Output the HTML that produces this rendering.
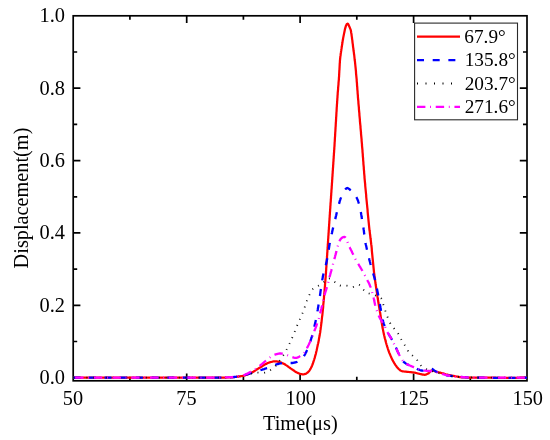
<!DOCTYPE html>
<html lang="en"><head><meta charset="utf-8"><title>Displacement vs Time</title>
<style>html,body{margin:0;padding:0;background:#fff}body{width:550px;height:440px;overflow:hidden}svg{display:block}text{font-family:"Liberation Serif","Times New Roman",serif;font-size:20px;fill:#000}</style>
</head><body>
<svg width="550" height="440" viewBox="0 0 550 440">
<rect width="550" height="440" fill="#fff"/>
<g stroke="#000" stroke-width="1.7" fill="none">
<rect x="73.2" y="15.8" width="453.8" height="365.0"/>
<path d="M129.9 380.8 v-4.0 M129.9 15.8 v4.0 M186.7 380.8 v-7.2 M186.7 15.8 v7.2 M243.4 380.8 v-4.0 M243.4 15.8 v4.0 M300.1 380.8 v-7.2 M300.1 15.8 v7.2 M356.8 380.8 v-4.0 M356.8 15.8 v4.0 M413.6 380.8 v-7.2 M413.6 15.8 v7.2 M470.3 380.8 v-4.0 M470.3 15.8 v4.0 M73.2 377.7 h7.2 M527.0 377.7 h-7.2 M73.2 341.5 h4.0 M527.0 341.5 h-4.0 M73.2 305.3 h7.2 M527.0 305.3 h-7.2 M73.2 269.1 h4.0 M527.0 269.1 h-4.0 M73.2 232.9 h7.2 M527.0 232.9 h-7.2 M73.2 196.8 h4.0 M527.0 196.8 h-4.0 M73.2 160.6 h7.2 M527.0 160.6 h-7.2 M73.2 124.4 h4.0 M527.0 124.4 h-4.0 M73.2 88.2 h7.2 M527.0 88.2 h-7.2 M73.2 52.0 h4.0 M527.0 52.0 h-4.0"/>
</g>
<g fill="none" stroke-linejoin="round">
<path d="M73.2 377.7 L74.2 377.7 L75.2 377.7 L76.2 377.7 L77.2 377.7 L78.2 377.7 L79.2 377.7 L80.2 377.7 L81.2 377.7 L82.2 377.7 L83.2 377.7 L84.2 377.7 L85.2 377.7 L86.2 377.7 L87.2 377.7 L88.2 377.7 L89.2 377.7 L90.2 377.7 L91.2 377.7 L92.2 377.7 L93.2 377.7 L94.2 377.7 L95.2 377.7 L96.2 377.7 L97.2 377.7 L98.2 377.7 L99.2 377.7 L100.2 377.7 L101.2 377.7 L102.2 377.7 L103.2 377.7 L104.2 377.7 L105.2 377.7 L106.2 377.7 L107.2 377.7 L108.2 377.7 L109.2 377.7 L110.2 377.7 L111.2 377.7 L112.2 377.7 L113.2 377.7 L114.2 377.7 L115.2 377.7 L116.2 377.7 L117.2 377.7 L118.2 377.7 L119.2 377.7 L120.2 377.7 L121.2 377.7 L122.2 377.7 L123.2 377.7 L124.2 377.7 L125.2 377.7 L126.2 377.7 L127.2 377.7 L128.2 377.7 L129.2 377.7 L130.2 377.7 L131.2 377.7 L132.2 377.7 L133.2 377.7 L134.2 377.7 L135.2 377.7 L136.2 377.7 L137.2 377.7 L138.2 377.7 L139.2 377.7 L140.2 377.7 L141.2 377.7 L142.2 377.7 L143.2 377.7 L144.2 377.7 L145.2 377.7 L146.2 377.7 L147.2 377.7 L148.2 377.7 L149.2 377.7 L150.2 377.7 L151.2 377.7 L152.2 377.7 L153.2 377.7 L154.2 377.7 L155.2 377.7 L156.2 377.7 L157.2 377.7 L158.2 377.7 L159.2 377.7 L160.2 377.7 L161.2 377.7 L162.2 377.7 L163.2 377.7 L164.2 377.7 L165.2 377.7 L166.2 377.7 L167.2 377.7 L168.2 377.7 L169.2 377.7 L170.2 377.7 L171.2 377.7 L172.2 377.7 L173.2 377.7 L174.2 377.7 L175.2 377.7 L176.2 377.7 L177.2 377.7 L178.2 377.7 L179.2 377.7 L180.2 377.7 L181.2 377.7 L182.2 377.7 L183.2 377.7 L184.2 377.7 L185.2 377.7 L186.2 377.7 L187.2 377.7 L188.2 377.7 L189.2 377.7 L190.2 377.7 L191.2 377.7 L192.2 377.7 L193.2 377.7 L194.2 377.7 L195.2 377.7 L196.2 377.7 L197.2 377.7 L198.2 377.7 L199.2 377.7 L200.2 377.7 L201.2 377.7 L202.2 377.7 L203.2 377.7 L204.2 377.7 L205.2 377.7 L206.2 377.7 L207.2 377.7 L208.2 377.7 L209.2 377.7 L210.2 377.7 L211.2 377.7 L212.2 377.7 L213.2 377.6 L214.2 377.6 L215.2 377.6 L216.2 377.6 L217.2 377.6 L218.2 377.6 L219.2 377.6 L220.2 377.6 L221.2 377.6 L222.2 377.6 L223.2 377.6 L224.2 377.5 L225.2 377.5 L226.2 377.5 L227.2 377.5 L228.2 377.4 L229.2 377.4 L230.2 377.4 L231.2 377.4 L232.2 377.3 L233.2 377.2 L234.2 377.1 L235.2 377.0 L236.2 376.9 L237.2 376.7 L238.2 376.6 L239.2 376.4 L240.2 376.3 L241.1 376.1 L242.1 376.0 L243.1 375.8 L244.1 375.6 L245.0 375.3 L246.0 375.0 L246.9 374.6 L247.9 374.3 L248.8 373.9 L249.7 373.5 L250.6 373.1 L251.5 372.7 L252.4 372.2 L253.3 371.7 L254.1 371.2 L255.0 370.7 L255.8 370.1 L256.7 369.6 L257.5 369.0 L258.4 368.5 L259.2 368.0 L260.1 367.5 L260.9 366.9 L261.8 366.4 L262.7 365.9 L263.5 365.4 L264.4 364.8 L265.2 364.3 L266.1 363.9 L267.0 363.4 L267.9 363.0 L268.9 362.7 L269.8 362.3 L270.8 362.0 L271.8 361.8 L272.8 361.5 L273.7 361.4 L274.7 361.3 L275.7 361.3 L276.7 361.4 L277.7 361.6 L278.7 361.8 L279.6 362.1 L280.6 362.4 L281.6 362.8 L282.5 363.2 L283.4 363.6 L284.3 364.0 L285.1 364.5 L286.0 365.1 L286.8 365.6 L287.6 366.2 L288.4 366.8 L289.2 367.4 L290.1 368.0 L290.9 368.6 L291.7 369.1 L292.6 369.7 L293.4 370.3 L294.2 370.8 L295.0 371.4 L295.9 371.9 L296.8 372.4 L297.6 372.9 L298.6 373.3 L299.5 373.7 L300.5 374.0 L301.5 374.2 L302.5 374.4 L303.4 374.4 L304.4 374.2 L305.4 373.9 L306.4 373.4 L307.2 372.8 L308.0 372.3 L308.6 371.6 L309.2 370.9 L309.8 370.0 L310.3 369.2 L310.8 368.3 L311.3 367.3 L311.8 366.4 L312.2 365.4 L312.5 364.5 L312.9 363.5 L313.2 362.6 L313.5 361.7 L313.8 360.7 L314.1 359.8 L314.4 358.8 L314.7 357.9 L315.0 356.9 L315.2 355.9 L315.5 354.9 L315.8 354.0 L316.0 353.0 L316.2 352.0 L316.5 351.0 L316.7 350.1 L316.9 349.1 L317.1 348.1 L317.3 347.1 L317.5 346.2 L317.7 345.2 L317.9 344.2 L318.2 343.2 L318.4 342.2 L318.6 341.3 L318.8 340.3 L318.9 339.3 L319.1 338.3 L319.3 337.3 L319.5 336.3 L319.7 335.3 L319.8 334.4 L320.0 333.4 L320.2 332.4 L320.3 331.4 L320.4 330.4 L320.6 329.4 L320.7 328.4 L320.8 327.4 L321.0 326.4 L321.1 325.5 L321.2 324.5 L321.3 323.5 L321.5 322.5 L321.6 321.5 L321.7 320.5 L321.8 319.5 L321.9 318.5 L322.0 317.5 L322.1 316.5 L322.3 315.5 L322.4 314.5 L322.5 313.5 L322.6 312.5 L322.7 311.5 L322.8 310.5 L322.9 309.5 L323.0 308.6 L323.1 307.6 L323.2 306.6 L323.2 305.6 L323.3 304.6 L323.4 303.6 L323.5 302.6 L323.6 301.6 L323.7 300.6 L323.8 299.6 L323.9 298.6 L324.0 297.6 L324.0 296.6 L324.1 295.6 L324.2 294.6 L324.3 293.6 L324.4 292.6 L324.5 291.6 L324.6 290.6 L324.6 289.6 L324.7 288.6 L324.8 287.6 L324.9 286.6 L325.0 285.6 L325.0 284.6 L325.1 283.6 L325.2 282.6 L325.3 281.7 L325.4 280.7 L325.4 279.7 L325.5 278.7 L325.6 277.7 L325.7 276.7 L325.7 275.7 L325.8 274.7 L325.9 273.7 L326.0 272.7 L326.0 271.7 L326.1 270.7 L326.2 269.7 L326.2 268.7 L326.3 267.7 L326.4 266.7 L326.4 265.7 L326.5 264.7 L326.6 263.7 L326.6 262.7 L326.7 261.7 L326.8 260.7 L326.8 259.7 L326.9 258.7 L327.0 257.7 L327.0 256.7 L327.1 255.7 L327.2 254.7 L327.2 253.7 L327.3 252.7 L327.4 251.7 L327.4 250.7 L327.5 249.7 L327.6 248.7 L327.6 247.7 L327.7 246.7 L327.8 245.7 L327.8 244.7 L327.9 243.7 L328.0 242.7 L328.0 241.7 L328.1 240.7 L328.1 239.7 L328.2 238.8 L328.3 237.8 L328.3 236.8 L328.4 235.8 L328.5 234.8 L328.5 233.8 L328.6 232.8 L328.7 231.8 L328.7 230.8 L328.8 229.8 L328.9 228.8 L328.9 227.8 L329.0 226.8 L329.1 225.8 L329.1 224.8 L329.2 223.8 L329.3 222.8 L329.3 221.8 L329.4 220.8 L329.5 219.8 L329.5 218.8 L329.6 217.8 L329.7 216.8 L329.7 215.8 L329.8 214.8 L329.9 213.8 L329.9 212.8 L330.0 211.8 L330.1 210.8 L330.1 209.8 L330.2 208.8 L330.3 207.8 L330.3 206.8 L330.4 205.8 L330.5 204.8 L330.5 203.8 L330.6 202.8 L330.7 201.8 L330.8 200.8 L330.8 199.8 L330.9 198.8 L331.0 197.8 L331.0 196.8 L331.1 195.8 L331.2 194.9 L331.2 193.9 L331.3 192.9 L331.4 191.9 L331.4 190.9 L331.5 189.9 L331.6 188.9 L331.7 187.9 L331.7 186.9 L331.8 185.9 L331.9 184.9 L331.9 183.9 L332.0 182.9 L332.1 181.9 L332.1 180.9 L332.2 179.9 L332.3 178.9 L332.3 177.9 L332.4 176.9 L332.5 175.9 L332.5 174.9 L332.6 173.9 L332.7 172.9 L332.7 171.9 L332.8 170.9 L332.9 169.9 L332.9 168.9 L333.0 167.9 L333.1 166.9 L333.1 165.9 L333.2 164.9 L333.3 163.9 L333.3 162.9 L333.4 161.9 L333.5 160.9 L333.5 159.9 L333.6 158.9 L333.7 157.9 L333.7 156.9 L333.8 155.9 L333.9 154.9 L333.9 153.9 L334.0 152.9 L334.1 151.9 L334.1 151.0 L334.2 150.0 L334.3 149.0 L334.3 148.0 L334.4 147.0 L334.5 146.0 L334.5 145.0 L334.6 144.0 L334.6 143.0 L334.7 142.0 L334.8 141.0 L334.8 140.0 L334.9 139.0 L334.9 138.0 L335.0 137.0 L335.1 136.0 L335.1 135.0 L335.2 134.0 L335.2 133.0 L335.3 132.0 L335.4 131.0 L335.4 130.0 L335.5 129.0 L335.5 128.0 L335.6 127.0 L335.7 126.0 L335.7 125.0 L335.8 124.0 L335.8 123.0 L335.9 122.0 L336.0 121.0 L336.0 120.0 L336.1 119.0 L336.1 118.0 L336.2 117.0 L336.3 116.0 L336.3 115.0 L336.4 114.0 L336.4 113.0 L336.5 112.0 L336.6 111.0 L336.6 110.0 L336.7 109.0 L336.7 108.0 L336.8 107.0 L336.9 106.0 L336.9 105.0 L337.0 104.0 L337.1 103.0 L337.1 102.0 L337.2 101.0 L337.3 100.0 L337.3 99.0 L337.4 98.1 L337.5 97.1 L337.5 96.1 L337.6 95.1 L337.7 94.1 L337.7 93.1 L337.8 92.1 L337.9 91.1 L338.0 90.1 L338.1 89.1 L338.1 88.1 L338.2 87.1 L338.3 86.1 L338.4 85.1 L338.5 84.1 L338.5 83.1 L338.6 82.1 L338.7 81.1 L338.8 80.1 L338.9 79.1 L338.9 78.1 L339.0 77.1 L339.1 76.1 L339.1 75.1 L339.2 74.1 L339.2 73.1 L339.3 72.1 L339.3 71.1 L339.4 70.1 L339.5 69.1 L339.5 68.1 L339.6 67.1 L339.6 66.1 L339.7 65.1 L339.7 64.1 L339.8 63.1 L339.9 62.1 L339.9 61.1 L340.0 60.1 L340.1 59.2 L340.2 58.2 L340.3 57.2 L340.4 56.2 L340.6 55.2 L340.7 54.2 L340.8 53.2 L341.0 52.2 L341.1 51.2 L341.3 50.2 L341.4 49.2 L341.6 48.2 L341.7 47.3 L341.9 46.3 L342.0 45.3 L342.2 44.3 L342.3 43.3 L342.5 42.3 L342.6 41.3 L342.8 40.3 L343.0 39.3 L343.1 38.4 L343.3 37.4 L343.5 36.4 L343.7 35.4 L343.9 34.4 L344.1 33.4 L344.3 32.5 L344.5 31.5 L344.7 30.5 L344.9 29.5 L345.1 28.6 L345.4 27.6 L345.7 26.6 L346.0 25.7 L346.5 24.6 L347.2 23.8 L347.8 23.7 L348.4 24.5 L348.9 25.6 L349.3 26.5 L349.7 27.4 L350.1 28.4 L350.5 29.3 L350.8 30.3 L351.0 31.2 L351.1 32.2 L351.3 33.2 L351.5 34.2 L351.6 35.1 L351.7 36.1 L351.9 37.1 L352.0 38.1 L352.1 39.1 L352.3 40.1 L352.4 41.1 L352.5 42.1 L352.6 43.1 L352.8 44.1 L352.9 45.1 L353.0 46.1 L353.1 47.1 L353.3 48.1 L353.4 49.1 L353.5 50.1 L353.6 51.1 L353.8 52.0 L353.9 53.0 L354.0 54.0 L354.2 55.0 L354.3 56.0 L354.4 57.0 L354.5 58.0 L354.6 59.0 L354.7 60.0 L354.9 61.0 L355.0 62.0 L355.1 63.0 L355.2 64.0 L355.3 65.0 L355.4 66.0 L355.5 66.9 L355.6 67.9 L355.7 68.9 L355.8 69.9 L355.9 70.9 L356.0 71.9 L356.0 72.9 L356.1 73.9 L356.2 74.9 L356.3 75.9 L356.4 76.9 L356.5 77.9 L356.6 78.9 L356.7 79.9 L356.7 80.9 L356.8 81.9 L356.9 82.9 L357.0 83.9 L357.0 84.9 L357.1 85.9 L357.2 86.9 L357.3 87.9 L357.3 88.9 L357.4 89.9 L357.5 90.9 L357.6 91.9 L357.6 92.9 L357.7 93.9 L357.8 94.9 L357.9 95.9 L357.9 96.8 L358.0 97.8 L358.1 98.8 L358.2 99.8 L358.3 100.8 L358.4 101.8 L358.4 102.8 L358.5 103.8 L358.6 104.8 L358.7 105.8 L358.8 106.8 L358.9 107.8 L358.9 108.8 L359.0 109.8 L359.1 110.8 L359.2 111.8 L359.3 112.8 L359.4 113.8 L359.4 114.8 L359.5 115.8 L359.6 116.8 L359.7 117.8 L359.8 118.8 L359.9 119.8 L359.9 120.8 L360.0 121.8 L360.1 122.8 L360.2 123.8 L360.3 124.8 L360.4 125.7 L360.5 126.7 L360.5 127.7 L360.6 128.7 L360.7 129.7 L360.8 130.7 L360.9 131.7 L361.0 132.7 L361.0 133.7 L361.1 134.7 L361.2 135.7 L361.3 136.7 L361.4 137.7 L361.5 138.7 L361.6 139.7 L361.6 140.7 L361.7 141.7 L361.8 142.7 L361.9 143.7 L362.0 144.7 L362.0 145.7 L362.1 146.7 L362.2 147.7 L362.3 148.7 L362.4 149.7 L362.5 150.7 L362.5 151.7 L362.6 152.7 L362.7 153.7 L362.8 154.6 L362.8 155.6 L362.9 156.6 L363.0 157.6 L363.1 158.6 L363.1 159.6 L363.2 160.6 L363.3 161.6 L363.4 162.6 L363.4 163.6 L363.5 164.6 L363.6 165.6 L363.7 166.6 L363.8 167.6 L363.8 168.6 L363.9 169.6 L364.0 170.6 L364.1 171.6 L364.1 172.6 L364.2 173.6 L364.3 174.6 L364.4 175.6 L364.5 176.6 L364.5 177.6 L364.6 178.6 L364.7 179.6 L364.8 180.6 L364.9 181.6 L365.0 182.6 L365.1 183.6 L365.2 184.6 L365.2 185.5 L365.3 186.5 L365.4 187.5 L365.5 188.5 L365.6 189.5 L365.7 190.5 L365.8 191.5 L365.9 192.5 L366.0 193.5 L366.1 194.5 L366.2 195.5 L366.2 196.5 L366.3 197.5 L366.4 198.5 L366.5 199.5 L366.6 200.5 L366.7 201.5 L366.8 202.5 L366.9 203.5 L367.0 204.5 L367.1 205.5 L367.2 206.5 L367.3 207.5 L367.4 208.4 L367.5 209.4 L367.6 210.4 L367.6 211.4 L367.7 212.4 L367.8 213.4 L367.9 214.4 L368.0 215.4 L368.1 216.4 L368.2 217.4 L368.3 218.4 L368.4 219.4 L368.5 220.4 L368.6 221.4 L368.7 222.4 L368.8 223.4 L368.9 224.4 L369.0 225.4 L369.1 226.4 L369.2 227.4 L369.3 228.4 L369.4 229.3 L369.5 230.3 L369.7 231.3 L369.8 232.3 L369.9 233.3 L370.0 234.3 L370.2 235.3 L370.3 236.3 L370.4 237.3 L370.5 238.3 L370.7 239.3 L370.8 240.3 L370.9 241.3 L371.0 242.2 L371.1 243.2 L371.2 244.2 L371.4 245.2 L371.5 246.2 L371.6 247.2 L371.7 248.2 L371.8 249.2 L371.8 250.2 L371.9 251.2 L372.0 252.2 L372.1 253.2 L372.2 254.2 L372.3 255.2 L372.4 256.2 L372.5 257.2 L372.6 258.2 L372.7 259.2 L372.8 260.2 L372.9 261.2 L373.0 262.2 L373.1 263.2 L373.2 264.1 L373.3 265.1 L373.4 266.1 L373.5 267.1 L373.6 268.1 L373.7 269.1 L373.8 270.1 L373.9 271.1 L374.0 272.1 L374.1 273.1 L374.3 274.1 L374.4 275.1 L374.5 276.1 L374.6 277.1 L374.8 278.1 L374.9 279.0 L375.0 280.0 L375.2 281.0 L375.3 282.0 L375.4 283.0 L375.6 284.0 L375.7 285.0 L375.9 286.0 L376.0 287.0 L376.2 288.0 L376.3 288.9 L376.5 289.9 L376.6 290.9 L376.8 291.9 L376.9 292.9 L377.1 293.9 L377.2 294.9 L377.4 295.9 L377.5 296.9 L377.7 297.8 L377.8 298.8 L378.0 299.8 L378.1 300.8 L378.3 301.8 L378.4 302.8 L378.6 303.8 L378.8 304.8 L378.9 305.7 L379.1 306.7 L379.3 307.7 L379.4 308.7 L379.6 309.7 L379.8 310.7 L379.9 311.7 L380.1 312.6 L380.3 313.6 L380.4 314.6 L380.6 315.6 L380.7 316.6 L380.9 317.6 L381.1 318.6 L381.2 319.6 L381.4 320.6 L381.5 321.5 L381.7 322.5 L381.9 323.5 L382.0 324.5 L382.2 325.5 L382.4 326.5 L382.5 327.5 L382.7 328.4 L382.9 329.4 L383.1 330.4 L383.3 331.4 L383.5 332.4 L383.7 333.3 L383.9 334.3 L384.1 335.3 L384.4 336.3 L384.6 337.2 L384.8 338.2 L385.1 339.2 L385.4 340.1 L385.6 341.1 L385.9 342.1 L386.1 343.0 L386.4 344.0 L386.7 345.0 L387.0 345.9 L387.3 346.9 L387.6 347.8 L387.9 348.8 L388.2 349.7 L388.5 350.7 L388.9 351.6 L389.2 352.6 L389.6 353.5 L390.0 354.4 L390.4 355.4 L390.8 356.3 L391.2 357.2 L391.6 358.1 L392.0 359.0 L392.4 359.9 L392.9 360.8 L393.4 361.7 L393.9 362.5 L394.4 363.4 L395.0 364.2 L395.5 365.1 L396.1 365.9 L396.7 366.7 L397.3 367.4 L398.0 368.2 L398.7 369.0 L399.5 369.7 L400.3 370.4 L401.1 370.8 L402.0 371.1 L402.9 371.3 L403.9 371.5 L405.0 371.6 L406.0 371.7 L407.0 371.8 L408.0 371.9 L409.0 372.0 L410.0 372.1 L411.0 372.2 L412.0 372.3 L413.0 372.4 L414.0 372.5 L414.9 372.7 L415.9 373.0 L416.9 373.2 L417.8 373.5 L418.8 373.7 L419.8 374.0 L420.8 374.2 L421.8 374.4 L422.8 374.6 L423.7 374.7 L424.7 374.8 L425.7 374.7 L426.6 374.3 L427.6 373.8 L428.5 373.4 L429.2 372.7 L429.9 371.8 L430.6 370.9 L431.3 370.5 L432.2 370.5 L433.2 370.7 L434.2 371.0 L435.2 371.3 L436.2 371.6 L437.2 371.8 L438.1 372.1 L439.1 372.4 L440.1 372.6 L441.0 372.9 L442.0 373.2 L442.9 373.4 L443.9 373.7 L444.9 374.0 L445.8 374.3 L446.8 374.5 L447.8 374.7 L448.7 375.0 L449.7 375.2 L450.7 375.4 L451.7 375.6 L452.7 375.8 L453.7 375.9 L454.6 376.1 L455.6 376.3 L456.6 376.5 L457.6 376.7 L458.6 376.9 L459.6 377.1 L460.6 377.2 L461.5 377.3 L462.5 377.3 L463.5 377.4 L464.5 377.4 L465.5 377.4 L466.5 377.5 L467.5 377.5 L468.5 377.5 L469.5 377.6 L470.5 377.6 L471.5 377.6 L472.5 377.6 L473.5 377.6 L474.5 377.7 L475.5 377.7 L476.5 377.7 L477.5 377.7 L478.5 377.7 L479.5 377.7 L480.5 377.7 L481.5 377.7 L482.5 377.7 L483.5 377.7 L484.5 377.7 L485.5 377.7 L486.5 377.7 L487.5 377.7 L488.5 377.7 L489.5 377.7 L490.5 377.7 L491.5 377.7 L492.5 377.7 L493.5 377.7 L494.5 377.7 L495.5 377.7 L496.5 377.8 L497.5 377.8 L498.5 377.8 L499.5 377.8 L500.5 377.8 L501.5 377.8 L502.5 377.8 L503.5 377.8 L504.5 377.8 L505.5 377.8 L506.5 377.8 L507.5 377.8 L508.5 377.8 L509.5 377.8 L510.5 377.8 L511.5 377.8 L512.5 377.8 L513.5 377.8 L514.5 377.8 L515.5 377.8 L516.5 377.8 L517.5 377.8 L518.5 377.8 L519.5 377.7 L520.5 377.7 L521.5 377.7 L522.5 377.7 L523.5 377.7 L524.5 377.7 L525.5 377.7 L526.5 377.7 L527.0 377.7" stroke="#ff0000" stroke-width="2.25"/>
<path d="M73.2 377.7 L74.2 377.7 L75.2 377.7 L76.2 377.7 L77.2 377.7 L78.2 377.7 L79.2 377.7 L80.2 377.7 L81.2 377.7 L82.2 377.7 L83.2 377.7 L84.2 377.7 L85.2 377.7 L86.2 377.7 L87.2 377.7 L88.2 377.7 L89.2 377.7 L90.2 377.7 L91.2 377.7 L92.2 377.7 L93.2 377.7 L94.2 377.7 L95.2 377.7 L96.2 377.7 L97.2 377.7 L98.2 377.7 L99.2 377.7 L100.2 377.7 L101.2 377.7 L102.2 377.7 L103.2 377.7 L104.2 377.7 L105.2 377.7 L106.2 377.7 L107.2 377.7 L108.2 377.7 L109.2 377.7 L110.2 377.7 L111.2 377.7 L112.2 377.7 L113.2 377.7 L114.2 377.7 L115.2 377.7 L116.2 377.7 L117.2 377.7 L118.2 377.7 L119.2 377.7 L120.2 377.7 L121.2 377.7 L122.2 377.7 L123.2 377.7 L124.2 377.7 L125.2 377.7 L126.2 377.7 L127.2 377.7 L128.2 377.7 L129.2 377.7 L130.2 377.7 L131.2 377.7 L132.2 377.7 L133.2 377.7 L134.2 377.7 L135.2 377.7 L136.2 377.7 L137.2 377.7 L138.2 377.7 L139.2 377.7 L140.2 377.7 L141.2 377.7 L142.2 377.7 L143.2 377.7 L144.2 377.7 L145.2 377.7 L146.2 377.7 L147.2 377.7 L148.2 377.7 L149.2 377.7 L150.2 377.7 L151.2 377.7 L152.2 377.7 L153.2 377.7 L154.2 377.7 L155.2 377.7 L156.2 377.7 L157.2 377.7 L158.2 377.7 L159.2 377.7 L160.2 377.7 L161.2 377.7 L162.2 377.7 L163.2 377.7 L164.2 377.7 L165.2 377.7 L166.2 377.7 L167.2 377.7 L168.2 377.7 L169.2 377.7 L170.2 377.7 L171.2 377.7 L172.2 377.7 L173.2 377.7 L174.2 377.7 L175.2 377.7 L176.2 377.7 L177.2 377.7 L178.2 377.7 L179.2 377.7 L180.2 377.7 L181.2 377.7 L182.2 377.7 L183.2 377.7 L184.2 377.7 L185.2 377.7 L186.2 377.7 L187.2 377.7 L188.2 377.7 L189.2 377.7 L190.2 377.7 L191.2 377.7 L192.2 377.7 L193.2 377.7 L194.2 377.7 L195.2 377.7 L196.2 377.7 L197.2 377.7 L198.2 377.7 L199.2 377.7 L200.2 377.7 L201.2 377.7 L202.2 377.7 L203.2 377.7 L204.2 377.7 L205.2 377.7 L206.2 377.7 L207.2 377.7 L208.2 377.7 L209.2 377.7 L210.2 377.7 L211.2 377.7 L212.2 377.7 L213.2 377.6 L214.2 377.6 L215.2 377.6 L216.2 377.6 L217.2 377.6 L218.2 377.6 L219.2 377.6 L220.2 377.6 L221.2 377.6 L222.2 377.6 L223.2 377.5 L224.2 377.5 L225.2 377.5 L226.2 377.5 L227.2 377.4 L228.2 377.4 L229.2 377.3 L230.2 377.3 L231.2 377.2 L232.2 377.2 L233.2 377.1 L234.2 377.0 L235.2 376.9 L236.2 376.8 L237.2 376.7 L238.2 376.5 L239.2 376.3 L240.1 376.2 L241.1 376.0 L242.1 375.8 L243.1 375.6 L244.0 375.3 L245.0 375.0 L245.9 374.7 L246.9 374.4 L247.8 374.1 L248.8 373.8 L249.8 373.5 L250.7 373.2 L251.7 372.9 L252.6 372.6 L253.6 372.3 L254.5 372.1 L255.5 371.8 L256.5 371.5 L257.4 371.2 L258.4 370.9 L259.3 370.6 L260.3 370.3 L261.2 370.0 L262.2 369.7 L263.1 369.4 L264.1 369.1 L265.0 368.7 L266.0 368.4 L266.9 368.1 L267.9 367.8 L268.8 367.4 L269.8 367.1 L270.7 366.7 L271.6 366.4 L272.6 366.0 L273.5 365.6 L274.4 365.2 L275.3 364.9 L276.3 364.5 L277.2 364.2 L278.2 364.0 L279.2 363.7 L280.1 363.5 L281.1 363.3 L282.1 363.2 L283.1 363.1 L284.1 363.0 L285.1 362.9 L286.1 362.9 L287.1 363.0 L288.1 363.0 L289.1 363.0 L290.1 363.0 L291.1 363.0 L292.1 363.0 L293.1 362.9 L294.1 362.7 L295.1 362.5 L296.1 362.2 L297.1 361.9 L298.0 361.5 L298.8 361.1 L299.6 360.6 L300.4 360.1 L301.2 359.4 L301.9 358.6 L302.6 357.8 L303.3 357.0 L303.9 356.1 L304.4 355.3 L304.9 354.5 L305.4 353.6 L305.8 352.8 L306.3 351.9 L306.7 350.9 L307.1 350.0 L307.5 349.1 L307.9 348.1 L308.3 347.2 L308.6 346.2 L309.0 345.3 L309.3 344.4 L309.6 343.4 L310.0 342.5 L310.3 341.5 L310.6 340.6 L310.9 339.6 L311.2 338.7 L311.5 337.7 L311.8 336.8 L312.1 335.8 L312.4 334.8 L312.6 333.9 L312.9 332.9 L313.1 332.0 L313.4 331.0 L313.6 330.0 L313.8 329.0 L314.1 328.1 L314.3 327.1 L314.5 326.1 L314.7 325.1 L314.9 324.2 L315.2 323.2 L315.4 322.2 L315.6 321.2 L315.8 320.2 L316.0 319.3 L316.1 318.3 L316.3 317.3 L316.5 316.3 L316.7 315.3 L316.9 314.3 L317.1 313.4 L317.2 312.4 L317.4 311.4 L317.6 310.4 L317.8 309.4 L317.9 308.4 L318.1 307.5 L318.3 306.5 L318.4 305.5 L318.6 304.5 L318.8 303.5 L318.9 302.5 L319.1 301.5 L319.2 300.5 L319.4 299.6 L319.5 298.6 L319.7 297.6 L319.8 296.6 L320.0 295.6 L320.1 294.6 L320.3 293.6 L320.4 292.6 L320.5 291.6 L320.7 290.6 L320.8 289.6 L321.0 288.7 L321.1 287.7 L321.2 286.7 L321.4 285.7 L321.5 284.7 L321.7 283.7 L321.8 282.7 L322.0 281.7 L322.2 280.7 L322.3 279.8 L322.5 278.8 L322.7 277.8 L322.8 276.8 L323.0 275.8 L323.2 274.9 L323.4 273.9 L323.7 272.9 L323.9 271.9 L324.2 271.0 L324.4 270.0 L324.7 269.0 L325.0 268.1 L325.2 267.1 L325.5 266.1 L325.8 265.2 L326.0 264.2 L326.3 263.2 L326.5 262.3 L326.7 261.3 L326.9 260.3 L327.1 259.3 L327.3 258.4 L327.5 257.4 L327.7 256.4 L327.8 255.4 L328.0 254.4 L328.2 253.4 L328.3 252.4 L328.5 251.5 L328.6 250.5 L328.8 249.5 L328.9 248.5 L329.1 247.5 L329.2 246.5 L329.4 245.5 L329.5 244.5 L329.7 243.5 L329.9 242.6 L330.1 241.6 L330.3 240.6 L330.5 239.6 L330.7 238.6 L330.9 237.7 L331.1 236.7 L331.3 235.7 L331.5 234.7 L331.7 233.8 L332.0 232.8 L332.2 231.8 L332.4 230.8 L332.6 229.9 L332.8 228.9 L333.1 227.9 L333.3 226.9 L333.5 226.0 L333.8 225.0 L334.0 224.0 L334.3 223.0 L334.5 222.1 L334.7 221.1 L335.0 220.1 L335.2 219.2 L335.5 218.2 L335.7 217.2 L335.9 216.2 L336.2 215.3 L336.4 214.3 L336.6 213.3 L336.9 212.4 L337.1 211.4 L337.3 210.4 L337.6 209.4 L337.8 208.5 L338.1 207.5 L338.3 206.5 L338.6 205.6 L338.8 204.6 L339.1 203.6 L339.4 202.7 L339.6 201.7 L339.9 200.7 L340.2 199.8 L340.5 198.8 L340.9 197.9 L341.2 197.0 L341.6 196.1 L342.1 195.2 L342.5 194.3 L343.0 193.4 L343.5 192.5 L343.9 191.6 L344.4 190.7 L344.9 189.9 L345.6 189.1 L346.4 188.4 L347.3 188.0 L348.2 188.3 L349.0 188.9 L349.8 189.5 L350.5 190.3 L351.2 191.0 L351.9 191.7 L352.6 192.4 L353.3 193.2 L354.0 193.9 L354.6 194.6 L355.2 195.4 L355.8 196.2 L356.3 197.1 L356.8 198.0 L357.2 198.9 L357.6 199.8 L358.0 200.7 L358.3 201.7 L358.6 202.6 L358.9 203.6 L359.1 204.6 L359.4 205.6 L359.6 206.5 L359.8 207.5 L360.1 208.5 L360.3 209.4 L360.5 210.4 L360.7 211.4 L360.9 212.4 L361.1 213.4 L361.2 214.4 L361.4 215.3 L361.5 216.3 L361.7 217.3 L361.8 218.3 L362.0 219.3 L362.1 220.3 L362.3 221.3 L362.4 222.3 L362.6 223.3 L362.8 224.2 L363.0 225.2 L363.1 226.2 L363.3 227.2 L363.5 228.2 L363.6 229.2 L363.8 230.2 L363.9 231.1 L364.0 232.1 L364.1 233.1 L364.2 234.1 L364.4 235.1 L364.5 236.1 L364.6 237.1 L364.7 238.1 L364.9 239.1 L365.0 240.1 L365.2 241.1 L365.4 242.0 L365.5 243.0 L365.7 244.0 L365.9 245.0 L366.2 246.0 L366.4 246.9 L366.6 247.9 L366.8 248.9 L367.0 249.9 L367.3 250.8 L367.5 251.8 L367.7 252.8 L367.9 253.8 L368.2 254.7 L368.4 255.7 L368.6 256.7 L368.9 257.7 L369.1 258.6 L369.3 259.6 L369.6 260.6 L369.8 261.5 L370.1 262.5 L370.3 263.5 L370.6 264.4 L370.8 265.4 L371.1 266.4 L371.4 267.3 L371.6 268.3 L371.9 269.3 L372.2 270.2 L372.5 271.2 L372.8 272.1 L373.1 273.1 L373.4 274.1 L373.6 275.0 L373.9 276.0 L374.2 276.9 L374.5 277.9 L374.7 278.9 L375.0 279.8 L375.2 280.8 L375.4 281.8 L375.7 282.8 L375.9 283.7 L376.1 284.7 L376.3 285.7 L376.5 286.7 L376.7 287.6 L376.9 288.6 L377.1 289.6 L377.3 290.6 L377.5 291.6 L377.7 292.5 L377.9 293.5 L378.1 294.5 L378.3 295.5 L378.5 296.5 L378.7 297.4 L378.8 298.4 L379.0 299.4 L379.2 300.4 L379.4 301.4 L379.5 302.4 L379.7 303.4 L379.9 304.3 L380.1 305.3 L380.2 306.3 L380.4 307.3 L380.5 308.3 L380.7 309.3 L380.9 310.3 L381.0 311.3 L381.2 312.2 L381.4 313.2 L381.6 314.2 L381.7 315.2 L381.9 316.2 L382.1 317.1 L382.4 318.1 L382.6 319.1 L382.8 320.1 L383.1 321.1 L383.3 322.0 L383.6 323.0 L383.9 324.0 L384.2 324.9 L384.5 325.8 L384.8 326.8 L385.1 327.7 L385.5 328.6 L386.0 329.5 L386.4 330.4 L386.9 331.3 L387.3 332.2 L387.8 333.1 L388.4 333.9 L388.9 334.8 L389.5 335.6 L390.0 336.4 L390.6 337.3 L391.1 338.1 L391.6 339.0 L392.1 339.9 L392.6 340.7 L393.1 341.6 L393.5 342.5 L394.0 343.4 L394.4 344.3 L394.8 345.2 L395.2 346.1 L395.7 347.0 L396.1 347.9 L396.5 348.8 L396.9 349.8 L397.3 350.7 L397.7 351.6 L398.1 352.5 L398.6 353.4 L399.0 354.3 L399.4 355.2 L399.9 356.1 L400.3 357.0 L400.8 357.9 L401.3 358.7 L401.8 359.6 L402.4 360.4 L403.0 361.2 L403.7 361.9 L404.5 362.5 L405.3 363.1 L406.1 363.7 L407.0 364.2 L407.9 364.6 L408.8 365.1 L409.7 365.5 L410.6 365.8 L411.6 366.2 L412.5 366.6 L413.4 367.0 L414.3 367.5 L415.2 368.0 L416.1 368.4 L417.0 368.9 L417.9 369.3 L418.8 369.6 L419.7 370.0 L420.7 370.3 L421.7 370.5 L422.7 370.7 L423.7 370.8 L424.7 370.8 L425.7 370.8 L426.7 370.7 L427.7 370.6 L428.6 370.2 L429.5 369.6 L430.4 369.0 L431.3 368.7 L432.1 368.9 L433.0 369.4 L433.8 370.1 L434.7 370.7 L435.5 371.2 L436.4 371.7 L437.3 372.1 L438.2 372.6 L439.1 373.0 L440.0 373.4 L441.0 373.7 L441.9 374.1 L442.9 374.4 L443.8 374.7 L444.8 374.9 L445.8 375.1 L446.7 375.3 L447.7 375.5 L448.7 375.6 L449.7 375.8 L450.7 375.9 L451.7 376.0 L452.7 376.2 L453.7 376.3 L454.7 376.4 L455.7 376.5 L456.7 376.6 L457.7 376.6 L458.7 376.7 L459.7 376.8 L460.7 376.9 L461.7 377.0 L462.7 377.1 L463.7 377.2 L464.6 377.2 L465.6 377.3 L466.6 377.3 L467.6 377.4 L468.6 377.4 L469.6 377.5 L470.6 377.5 L471.6 377.5 L472.6 377.6 L473.6 377.6 L474.6 377.6 L475.6 377.6 L476.6 377.7 L477.6 377.7 L478.6 377.7 L479.6 377.7 L480.6 377.7 L481.6 377.7 L482.6 377.7 L483.6 377.7 L484.6 377.7 L485.6 377.7 L486.6 377.7 L487.6 377.7 L488.6 377.8 L489.6 377.8 L490.6 377.8 L491.6 377.8 L492.6 377.8 L493.6 377.8 L494.6 377.8 L495.6 377.8 L496.6 377.8 L497.6 377.8 L498.6 377.8 L499.6 377.8 L500.6 377.8 L501.6 377.8 L502.6 377.8 L503.6 377.8 L504.6 377.8 L505.6 377.8 L506.6 377.8 L507.6 377.8 L508.6 377.8 L509.6 377.8 L510.6 377.8 L511.6 377.8 L512.6 377.8 L513.6 377.8 L514.6 377.8 L515.6 377.8 L516.6 377.8 L517.6 377.8 L518.6 377.8 L519.6 377.8 L520.6 377.7 L521.6 377.7 L522.6 377.7 L523.6 377.7 L524.6 377.7 L525.6 377.7 L526.6 377.7 L527.0 377.7" stroke="#0000ff" stroke-width="2.3" stroke-dasharray="7 8.685"/>
<path d="M73.2 377.7 L74.2 377.7 L75.2 377.7 L76.2 377.7 L77.2 377.7 L78.2 377.7 L79.2 377.7 L80.2 377.7 L81.2 377.7 L82.2 377.7 L83.2 377.7 L84.2 377.7 L85.2 377.7 L86.2 377.7 L87.2 377.7 L88.2 377.7 L89.2 377.7 L90.2 377.7 L91.2 377.7 L92.2 377.7 L93.2 377.7 L94.2 377.7 L95.2 377.7 L96.2 377.7 L97.2 377.7 L98.2 377.7 L99.2 377.7 L100.2 377.7 L101.2 377.7 L102.2 377.7 L103.2 377.7 L104.2 377.7 L105.2 377.7 L106.2 377.7 L107.2 377.7 L108.2 377.7 L109.2 377.7 L110.2 377.7 L111.2 377.7 L112.2 377.7 L113.2 377.7 L114.2 377.7 L115.2 377.7 L116.2 377.7 L117.2 377.7 L118.2 377.7 L119.2 377.7 L120.2 377.7 L121.2 377.7 L122.2 377.7 L123.2 377.7 L124.2 377.7 L125.2 377.7 L126.2 377.7 L127.2 377.7 L128.2 377.7 L129.2 377.7 L130.2 377.7 L131.2 377.7 L132.2 377.7 L133.2 377.7 L134.2 377.7 L135.2 377.7 L136.2 377.7 L137.2 377.7 L138.2 377.7 L139.2 377.7 L140.2 377.7 L141.2 377.7 L142.2 377.7 L143.2 377.7 L144.2 377.7 L145.2 377.7 L146.2 377.7 L147.2 377.7 L148.2 377.7 L149.2 377.7 L150.2 377.7 L151.2 377.7 L152.2 377.7 L153.2 377.7 L154.2 377.7 L155.2 377.7 L156.2 377.7 L157.2 377.7 L158.2 377.7 L159.2 377.7 L160.2 377.7 L161.2 377.7 L162.2 377.7 L163.2 377.7 L164.2 377.7 L165.2 377.7 L166.2 377.7 L167.2 377.7 L168.2 377.7 L169.2 377.7 L170.2 377.7 L171.2 377.7 L172.2 377.7 L173.2 377.7 L174.2 377.7 L175.2 377.7 L176.2 377.7 L177.2 377.7 L178.2 377.7 L179.2 377.7 L180.2 377.7 L181.2 377.7 L182.2 377.7 L183.2 377.7 L184.2 377.7 L185.2 377.7 L186.2 377.7 L187.2 377.7 L188.2 377.7 L189.2 377.7 L190.2 377.7 L191.2 377.7 L192.2 377.7 L193.2 377.7 L194.2 377.7 L195.2 377.7 L196.2 377.7 L197.2 377.7 L198.2 377.7 L199.2 377.7 L200.2 377.7 L201.2 377.7 L202.2 377.7 L203.2 377.7 L204.2 377.7 L205.2 377.7 L206.2 377.7 L207.2 377.7 L208.2 377.7 L209.2 377.7 L210.2 377.7 L211.2 377.7 L212.2 377.7 L213.2 377.7 L214.2 377.6 L215.2 377.6 L216.2 377.6 L217.2 377.6 L218.2 377.6 L219.2 377.6 L220.2 377.6 L221.2 377.6 L222.2 377.6 L223.2 377.6 L224.2 377.6 L225.2 377.5 L226.2 377.5 L227.2 377.5 L228.2 377.4 L229.2 377.4 L230.2 377.3 L231.2 377.2 L232.2 377.2 L233.2 377.1 L234.2 377.0 L235.2 376.9 L236.2 376.8 L237.2 376.7 L238.2 376.5 L239.2 376.4 L240.1 376.2 L241.1 376.1 L242.1 375.9 L243.1 375.7 L244.1 375.4 L245.0 375.2 L246.0 374.9 L246.9 374.6 L247.9 374.3 L248.9 374.1 L249.8 373.8 L250.8 373.6 L251.8 373.3 L252.8 373.1 L253.7 372.9 L254.7 372.7 L255.7 372.6 L256.7 372.6 L257.7 372.6 L258.7 372.7 L259.7 372.7 L260.7 372.7 L261.7 372.7 L262.7 372.7 L263.7 372.6 L264.7 372.6 L265.6 372.3 L266.6 372.0 L267.5 371.5 L268.4 371.0 L269.3 370.5 L270.2 370.1 L271.1 369.6 L272.0 369.1 L272.8 368.5 L273.6 368.0 L274.4 367.3 L275.1 366.7 L275.7 365.9 L276.4 365.1 L277.0 364.3 L277.6 363.5 L278.2 362.7 L278.8 361.9 L279.3 361.1 L279.9 360.2 L280.5 359.4 L281.0 358.6 L281.6 357.8 L282.2 356.9 L282.7 356.1 L283.3 355.3 L283.9 354.5 L284.4 353.6 L284.9 352.8 L285.4 351.9 L285.9 351.0 L286.4 350.1 L286.8 349.2 L287.2 348.3 L287.7 347.4 L288.1 346.5 L288.5 345.6 L289.0 344.7 L289.4 343.8 L289.9 343.0 L290.3 342.1 L290.7 341.2 L291.2 340.2 L291.6 339.3 L291.9 338.4 L292.3 337.5 L292.7 336.6 L293.1 335.6 L293.5 334.7 L293.8 333.8 L294.2 332.8 L294.6 331.9 L295.0 331.0 L295.3 330.1 L295.7 329.1 L296.1 328.2 L296.5 327.3 L296.8 326.4 L297.2 325.4 L297.6 324.5 L298.0 323.6 L298.3 322.7 L298.7 321.7 L299.1 320.8 L299.6 319.9 L300.0 319.0 L300.4 318.1 L300.8 317.2 L301.2 316.3 L301.6 315.3 L302.0 314.4 L302.4 313.5 L302.7 312.6 L303.1 311.6 L303.5 310.7 L303.8 309.8 L304.2 308.8 L304.5 307.9 L304.8 306.9 L305.1 306.0 L305.4 305.0 L305.7 304.1 L306.0 303.1 L306.4 302.2 L306.7 301.3 L307.1 300.3 L307.5 299.4 L307.8 298.5 L308.2 297.5 L308.6 296.6 L309.0 295.7 L309.4 294.8 L309.8 293.9 L310.3 292.9 L310.7 292.0 L311.2 291.1 L311.7 290.3 L312.3 289.6 L313.0 288.9 L313.8 288.4 L314.7 287.8 L315.5 287.3 L316.5 286.8 L317.4 286.3 L318.3 285.8 L319.1 285.3 L319.9 284.7 L320.8 284.2 L321.6 283.6 L322.4 283.0 L323.3 282.5 L324.1 281.9 L324.9 281.3 L325.8 280.6 L326.6 279.9 L327.5 279.3 L328.3 278.8 L329.2 278.5 L330.0 278.6 L330.8 279.0 L331.7 279.6 L332.5 280.3 L333.3 281.0 L334.2 281.6 L335.0 282.2 L335.8 282.8 L336.6 283.5 L337.5 284.1 L338.3 284.7 L339.2 285.1 L340.0 285.5 L341.0 285.7 L341.9 285.7 L342.9 285.6 L344.0 285.5 L345.0 285.5 L346.0 285.5 L347.0 285.7 L348.0 285.9 L348.9 286.2 L349.9 286.5 L350.9 286.7 L351.8 286.9 L352.8 287.0 L353.8 286.8 L354.8 286.3 L355.7 285.7 L356.7 285.2 L357.6 284.8 L358.5 284.7 L359.2 284.9 L359.9 285.5 L360.6 286.3 L361.3 287.2 L361.9 288.1 L362.6 288.9 L363.3 289.6 L364.1 290.3 L364.8 291.0 L365.6 291.6 L366.4 292.2 L367.2 292.8 L368.1 293.2 L369.0 293.5 L370.0 293.8 L371.0 294.1 L371.9 294.4 L372.9 294.7 L373.9 295.0 L374.8 295.3 L375.8 295.6 L376.7 296.0 L377.6 296.3 L378.6 296.7 L379.5 297.2 L380.4 297.7 L381.2 298.3 L381.7 299.0 L382.1 299.9 L382.4 300.8 L382.7 301.8 L383.0 302.8 L383.3 303.9 L383.5 304.8 L383.8 305.8 L384.1 306.8 L384.4 307.7 L384.7 308.7 L385.0 309.6 L385.3 310.6 L385.6 311.5 L385.9 312.5 L386.2 313.4 L386.5 314.4 L386.9 315.3 L387.2 316.3 L387.6 317.2 L387.9 318.1 L388.3 319.1 L388.7 320.0 L389.1 320.9 L389.5 321.8 L389.9 322.7 L390.4 323.6 L390.9 324.4 L391.5 325.3 L392.1 326.0 L392.7 326.8 L393.4 327.6 L394.0 328.4 L394.6 329.2 L395.2 330.0 L395.9 330.8 L396.5 331.5 L397.1 332.3 L397.7 333.1 L398.3 333.9 L398.8 334.8 L399.4 335.6 L399.8 336.5 L400.3 337.4 L400.7 338.3 L401.1 339.2 L401.5 340.1 L402.0 341.0 L402.5 341.9 L403.1 342.7 L403.6 343.5 L404.2 344.3 L404.8 345.2 L405.3 346.0 L405.9 346.8 L406.4 347.7 L406.9 348.6 L407.3 349.5 L407.8 350.4 L408.2 351.3 L408.8 352.1 L409.4 352.9 L410.1 353.5 L410.9 354.2 L411.6 354.8 L412.4 355.5 L413.2 356.2 L413.9 356.8 L414.6 357.5 L415.4 358.2 L416.1 358.9 L416.7 359.7 L417.4 360.5 L417.9 361.3 L418.4 362.2 L418.9 363.0 L419.5 363.9 L420.1 364.6 L420.8 365.4 L421.5 366.1 L422.3 366.8 L423.1 367.4 L423.9 367.9 L424.7 368.4 L425.6 368.8 L426.5 369.2 L427.5 369.6 L428.4 370.0 L429.4 370.3 L430.3 370.6 L431.3 370.9 L432.2 371.2 L433.2 371.5 L434.1 371.8 L435.1 372.1 L436.1 372.4 L437.0 372.7 L438.0 373.0 L439.0 373.2 L439.9 373.5 L440.9 373.7 L441.9 374.0 L442.8 374.2 L443.8 374.5 L444.8 374.8 L445.7 375.0 L446.7 375.3 L447.7 375.5 L448.7 375.7 L449.7 375.9 L450.6 376.0 L451.6 376.2 L452.6 376.3 L453.6 376.4 L454.6 376.5 L455.6 376.5 L456.6 376.6 L457.6 376.7 L458.6 376.8 L459.6 376.9 L460.6 377.0 L461.6 377.0 L462.6 377.1 L463.6 377.2 L464.6 377.2 L465.6 377.3 L466.6 377.3 L467.6 377.3 L468.6 377.4 L469.6 377.4 L470.6 377.4 L471.6 377.4 L472.6 377.4 L473.6 377.5 L474.6 377.5 L475.6 377.5 L476.6 377.5 L477.6 377.5 L478.6 377.6 L479.6 377.6 L480.6 377.6 L481.6 377.6 L482.6 377.6 L483.6 377.6 L484.6 377.7 L485.6 377.7 L486.6 377.7 L487.6 377.7 L488.6 377.7 L489.6 377.7 L490.6 377.7 L491.6 377.7 L492.6 377.7 L493.6 377.7 L494.6 377.7 L495.6 377.7 L496.6 377.7 L497.6 377.7 L498.6 377.7 L499.6 377.7 L500.6 377.7 L501.6 377.7 L502.6 377.7 L503.6 377.7 L504.6 377.7 L505.6 377.7 L506.6 377.7 L507.6 377.7 L508.6 377.7 L509.6 377.7 L510.6 377.7 L511.6 377.7 L512.6 377.7 L513.6 377.7 L514.6 377.7 L515.6 377.7 L516.6 377.7 L517.6 377.7 L518.6 377.7 L519.6 377.7 L520.6 377.7 L521.6 377.7 L522.6 377.7 L523.6 377.7 L524.6 377.7 L525.6 377.7 L526.6 377.7 L527.0 377.7" stroke="#111" stroke-width="1.8" stroke-dasharray="1 5.6"/>
<path d="M73.2 377.7 L74.2 377.7 L75.2 377.7 L76.2 377.7 L77.2 377.7 L78.2 377.7 L79.2 377.7 L80.2 377.7 L81.2 377.7 L82.2 377.7 L83.2 377.7 L84.2 377.7 L85.2 377.7 L86.2 377.7 L87.2 377.7 L88.2 377.7 L89.2 377.7 L90.2 377.7 L91.2 377.7 L92.2 377.7 L93.2 377.7 L94.2 377.7 L95.2 377.7 L96.2 377.7 L97.2 377.7 L98.2 377.7 L99.2 377.7 L100.2 377.7 L101.2 377.7 L102.2 377.7 L103.2 377.7 L104.2 377.7 L105.2 377.7 L106.2 377.7 L107.2 377.7 L108.2 377.7 L109.2 377.7 L110.2 377.7 L111.2 377.7 L112.2 377.7 L113.2 377.7 L114.2 377.7 L115.2 377.7 L116.2 377.7 L117.2 377.7 L118.2 377.7 L119.2 377.7 L120.2 377.7 L121.2 377.7 L122.2 377.7 L123.2 377.7 L124.2 377.7 L125.2 377.7 L126.2 377.7 L127.2 377.7 L128.2 377.7 L129.2 377.7 L130.2 377.7 L131.2 377.7 L132.2 377.7 L133.2 377.7 L134.2 377.7 L135.2 377.7 L136.2 377.7 L137.2 377.7 L138.2 377.7 L139.2 377.7 L140.2 377.7 L141.2 377.7 L142.2 377.7 L143.2 377.7 L144.2 377.7 L145.2 377.7 L146.2 377.7 L147.2 377.7 L148.2 377.7 L149.2 377.7 L150.2 377.7 L151.2 377.7 L152.2 377.7 L153.2 377.7 L154.2 377.7 L155.2 377.7 L156.2 377.7 L157.2 377.7 L158.2 377.7 L159.2 377.7 L160.2 377.7 L161.2 377.7 L162.2 377.7 L163.2 377.7 L164.2 377.7 L165.2 377.7 L166.2 377.7 L167.2 377.7 L168.2 377.7 L169.2 377.7 L170.2 377.7 L171.2 377.7 L172.2 377.7 L173.2 377.7 L174.2 377.7 L175.2 377.7 L176.2 377.7 L177.2 377.7 L178.2 377.7 L179.2 377.7 L180.2 377.7 L181.2 377.7 L182.2 377.7 L183.2 377.7 L184.2 377.7 L185.2 377.7 L186.2 377.7 L187.2 377.7 L188.2 377.7 L189.2 377.7 L190.2 377.7 L191.2 377.7 L192.2 377.7 L193.2 377.7 L194.2 377.7 L195.2 377.7 L196.2 377.7 L197.2 377.7 L198.2 377.7 L199.2 377.7 L200.2 377.7 L201.2 377.7 L202.2 377.7 L203.2 377.7 L204.2 377.7 L205.2 377.7 L206.2 377.7 L207.2 377.7 L208.2 377.6 L209.2 377.6 L210.2 377.6 L211.2 377.6 L212.2 377.6 L213.2 377.6 L214.2 377.6 L215.2 377.6 L216.2 377.5 L217.2 377.5 L218.2 377.5 L219.2 377.5 L220.2 377.5 L221.2 377.5 L222.2 377.5 L223.2 377.4 L224.2 377.4 L225.2 377.4 L226.2 377.3 L227.2 377.3 L228.2 377.3 L229.2 377.2 L230.2 377.2 L231.2 377.1 L232.2 377.1 L233.2 377.0 L234.2 376.9 L235.2 376.8 L236.2 376.6 L237.2 376.5 L238.2 376.3 L239.2 376.1 L240.2 376.0 L241.1 375.8 L242.1 375.6 L243.0 375.3 L244.0 375.1 L244.9 374.7 L245.8 374.3 L246.7 373.9 L247.6 373.4 L248.5 372.9 L249.4 372.4 L250.3 371.9 L251.2 371.4 L252.1 371.0 L252.9 370.5 L253.8 369.9 L254.6 369.4 L255.5 368.9 L256.3 368.3 L257.1 367.7 L257.9 367.1 L258.7 366.5 L259.5 365.9 L260.3 365.3 L261.1 364.7 L261.9 364.1 L262.7 363.4 L263.4 362.8 L264.2 362.1 L264.9 361.5 L265.7 360.8 L266.5 360.2 L267.3 359.6 L268.0 359.0 L268.8 358.4 L269.7 357.7 L270.5 357.1 L271.3 356.5 L272.1 356.0 L273.0 355.5 L273.9 355.1 L274.8 354.7 L275.7 354.4 L276.7 354.1 L277.7 353.8 L278.7 353.6 L279.7 353.5 L280.7 353.5 L281.7 353.6 L282.7 353.7 L283.7 353.9 L284.6 354.1 L285.6 354.4 L286.5 354.8 L287.4 355.2 L288.3 355.6 L289.2 356.1 L290.1 356.5 L291.1 356.8 L292.0 357.1 L293.0 357.4 L293.9 357.7 L294.9 357.9 L296.0 357.9 L296.9 357.8 L297.8 357.4 L298.7 356.9 L299.6 356.4 L300.4 355.8 L301.3 355.3 L302.1 354.7 L302.9 354.1 L303.6 353.4 L304.2 352.7 L304.8 351.9 L305.4 351.0 L305.9 350.1 L306.4 349.2 L306.9 348.4 L307.3 347.5 L307.8 346.6 L308.2 345.7 L308.7 344.8 L309.1 343.9 L309.5 343.0 L309.9 342.1 L310.3 341.1 L310.7 340.2 L311.1 339.3 L311.5 338.4 L311.9 337.5 L312.3 336.5 L312.6 335.6 L313.0 334.7 L313.4 333.8 L313.7 332.8 L314.1 331.9 L314.4 330.9 L314.8 330.0 L315.1 329.1 L315.5 328.1 L315.8 327.2 L316.2 326.3 L316.5 325.3 L316.8 324.4 L317.2 323.4 L317.5 322.5 L317.8 321.5 L318.1 320.6 L318.4 319.6 L318.7 318.7 L319.0 317.7 L319.3 316.7 L319.5 315.8 L319.8 314.8 L320.0 313.9 L320.3 312.9 L320.5 311.9 L320.8 310.9 L321.0 310.0 L321.3 309.0 L321.5 308.0 L321.7 307.1 L322.0 306.1 L322.2 305.1 L322.4 304.1 L322.7 303.2 L322.9 302.2 L323.1 301.2 L323.3 300.2 L323.5 299.3 L323.7 298.3 L324.0 297.3 L324.2 296.3 L324.5 295.4 L324.7 294.4 L325.0 293.5 L325.3 292.5 L325.6 291.5 L325.9 290.6 L326.2 289.6 L326.5 288.7 L326.8 287.7 L327.1 286.8 L327.4 285.8 L327.7 284.8 L327.9 283.9 L328.2 282.9 L328.4 281.9 L328.7 281.0 L328.9 280.0 L329.1 279.0 L329.4 278.1 L329.6 277.1 L329.8 276.1 L330.1 275.1 L330.3 274.2 L330.6 273.2 L330.9 272.2 L331.1 271.3 L331.4 270.3 L331.6 269.4 L331.9 268.4 L332.2 267.4 L332.4 266.5 L332.7 265.5 L332.9 264.5 L333.2 263.6 L333.5 262.6 L333.7 261.6 L334.0 260.7 L334.2 259.7 L334.5 258.7 L334.7 257.8 L335.0 256.8 L335.2 255.8 L335.5 254.9 L335.8 253.9 L336.0 252.9 L336.3 251.9 L336.5 251.0 L336.8 250.0 L337.0 249.0 L337.3 248.1 L337.6 247.1 L337.8 246.1 L338.1 245.2 L338.4 244.2 L338.7 243.3 L339.0 242.3 L339.4 241.4 L339.8 240.4 L340.3 239.6 L340.8 238.8 L341.6 238.1 L342.4 237.5 L343.3 237.1 L344.3 236.9 L345.3 237.3 L345.9 238.0 L346.3 239.0 L346.7 239.9 L347.0 240.8 L347.3 241.8 L347.7 242.7 L348.0 243.7 L348.4 244.6 L348.8 245.5 L349.2 246.4 L349.7 247.3 L350.1 248.2 L350.6 249.1 L351.0 250.0 L351.5 250.9 L351.9 251.8 L352.3 252.7 L352.8 253.6 L353.2 254.5 L353.6 255.4 L354.0 256.3 L354.4 257.2 L354.8 258.2 L355.3 259.0 L355.7 259.9 L356.2 260.8 L356.7 261.6 L357.3 262.5 L357.8 263.3 L358.4 264.2 L358.9 265.0 L359.4 265.9 L360.0 266.7 L360.5 267.6 L361.0 268.4 L361.5 269.3 L362.0 270.1 L362.6 271.0 L363.1 271.9 L363.5 272.7 L364.0 273.6 L364.5 274.5 L364.9 275.4 L365.4 276.3 L365.8 277.2 L366.3 278.1 L366.7 279.0 L367.2 279.9 L367.6 280.7 L368.1 281.6 L368.6 282.5 L369.0 283.4 L369.4 284.3 L369.8 285.2 L370.2 286.2 L370.6 287.1 L371.0 288.0 L371.3 289.0 L371.6 289.9 L371.9 290.9 L372.2 291.8 L372.4 292.8 L372.7 293.8 L372.9 294.7 L373.2 295.7 L373.4 296.7 L373.6 297.7 L373.8 298.6 L374.1 299.6 L374.2 300.6 L374.4 301.6 L374.6 302.6 L374.8 303.5 L375.0 304.5 L375.3 305.5 L375.5 306.5 L375.7 307.4 L376.0 308.4 L376.3 309.3 L376.7 310.3 L377.0 311.2 L377.3 312.2 L377.7 313.1 L378.0 314.0 L378.4 315.0 L378.8 315.9 L379.2 316.8 L379.7 317.7 L380.1 318.6 L380.6 319.4 L381.2 320.3 L381.7 321.1 L382.2 322.0 L382.7 322.8 L383.3 323.7 L383.8 324.6 L384.3 325.4 L384.8 326.3 L385.2 327.2 L385.5 328.1 L385.9 329.1 L386.3 330.0 L386.8 330.9 L387.2 331.8 L387.7 332.6 L388.3 333.5 L388.8 334.3 L389.3 335.2 L389.8 336.0 L390.3 336.9 L390.8 337.8 L391.3 338.7 L391.7 339.5 L392.2 340.4 L392.6 341.3 L393.1 342.2 L393.5 343.1 L394.0 344.0 L394.4 344.9 L394.9 345.8 L395.3 346.7 L395.8 347.6 L396.2 348.5 L396.6 349.4 L397.1 350.3 L397.5 351.2 L397.9 352.1 L398.4 353.0 L398.8 353.9 L399.2 354.8 L399.7 355.7 L400.1 356.6 L400.6 357.5 L401.1 358.4 L401.6 359.2 L402.2 360.0 L402.8 360.8 L403.5 361.6 L404.2 362.2 L405.0 362.9 L405.8 363.5 L406.7 364.0 L407.5 364.5 L408.4 364.9 L409.3 365.3 L410.3 365.7 L411.2 366.1 L412.1 366.5 L413.0 366.9 L413.9 367.3 L414.8 367.7 L415.7 368.2 L416.6 368.6 L417.6 369.0 L418.5 369.4 L419.4 369.8 L420.4 370.1 L421.3 370.4 L422.3 370.5 L423.3 370.6 L424.3 370.7 L425.3 370.7 L426.3 370.8 L427.3 370.8 L428.3 370.9 L429.3 371.0 L430.3 371.1 L431.3 371.2 L432.3 371.3 L433.3 371.5 L434.2 371.6 L435.2 371.8 L436.2 372.1 L437.2 372.4 L438.1 372.6 L439.1 372.9 L440.0 373.2 L441.0 373.5 L442.0 373.8 L442.9 374.1 L443.9 374.4 L444.8 374.7 L445.8 375.0 L446.7 375.2 L447.7 375.5 L448.7 375.7 L449.7 375.9 L450.7 376.1 L451.6 376.3 L452.6 376.4 L453.6 376.4 L454.6 376.5 L455.6 376.6 L456.6 376.7 L457.6 376.8 L458.6 376.8 L459.6 376.9 L460.6 377.0 L461.6 377.0 L462.6 377.1 L463.6 377.2 L464.6 377.2 L465.6 377.3 L466.6 377.3 L467.6 377.3 L468.6 377.4 L469.6 377.4 L470.6 377.4 L471.6 377.4 L472.6 377.4 L473.6 377.5 L474.6 377.5 L475.6 377.5 L476.6 377.5 L477.6 377.5 L478.6 377.6 L479.6 377.6 L480.6 377.6 L481.6 377.6 L482.6 377.6 L483.6 377.6 L484.6 377.7 L485.6 377.7 L486.6 377.7 L487.6 377.7 L488.6 377.7 L489.6 377.7 L490.6 377.7 L491.6 377.7 L492.6 377.7 L493.6 377.7 L494.6 377.7 L495.6 377.7 L496.6 377.7 L497.6 377.7 L498.6 377.7 L499.6 377.7 L500.6 377.7 L501.6 377.7 L502.6 377.7 L503.6 377.7 L504.6 377.7 L505.6 377.7 L506.6 377.7 L507.6 377.7 L508.6 377.7 L509.6 377.7 L510.6 377.7 L511.6 377.7 L512.6 377.7 L513.6 377.7 L514.6 377.7 L515.6 377.7 L516.6 377.7 L517.6 377.7 L518.6 377.7 L519.6 377.7 L520.6 377.7 L521.6 377.7 L522.6 377.7 L523.6 377.7 L524.6 377.7 L525.6 377.7 L526.6 377.7 L527.0 377.7" stroke="#ff00ff" stroke-width="2.3" stroke-dasharray="8.4 4.7 0.9 4.72" stroke-dashoffset="16.8"/>
</g>
<g text-anchor="end">
<text x="65" y="384.1" style="font-size:20.4px">0.0</text>
<text x="65" y="311.7" style="font-size:20.4px">0.2</text>
<text x="65" y="239.3" style="font-size:20.4px">0.4</text>
<text x="65" y="166.9" style="font-size:20.4px">0.6</text>
<text x="65" y="94.5" style="font-size:20.4px">0.8</text>
<text x="65" y="22.2" style="font-size:20.4px">1.0</text>
</g>
<g text-anchor="middle">
<text x="72.9" y="405.3" style="font-size:20.3px">50</text>
<text x="186.5" y="405.3" style="font-size:20.3px">75</text>
<text x="300.8" y="405.3" style="font-size:20.3px">100</text>
<text x="413.7" y="405.3" style="font-size:20.3px">125</text>
<text x="527.7" y="405.3" style="font-size:20.3px">150</text>
<text x="300.3" y="429.8" style="font-size:20.4px">Time(μs)</text>
<text transform="translate(28.1 198) rotate(-90)" style="font-size:20.3px">Displacement(m)</text>
</g>
<rect x="414.6" y="23.1" width="102.9" height="96.7" fill="#fff" stroke="#2a2a2a" stroke-width="1.1"/>
<g fill="none">
<path d="M417 36.7 H460" stroke="#ff0000" stroke-width="2.25"/>
<path d="M417 60.1 H460" stroke="#0000ff" stroke-width="2.3" stroke-dasharray="7 8.685"/>
<path d="M417 83.5 H459" stroke="#000" stroke-width="2" stroke-dasharray="1 7.5"/>
<path d="M417 106.8 H460" stroke="#ff00ff" stroke-width="2.3" stroke-dasharray="8.4 4.7 0.9 4.72"/>
</g>
<g style="font-size:19px">
<text x="464.3" y="42.9" style="font-size:19.3px">67.9°</text>
<text x="464.7" y="66.3" style="font-size:19.3px">135.8°</text>
<text x="464.7" y="89.7" style="font-size:19.3px">203.7°</text>
<text x="464.7" y="113.1" style="font-size:19.3px">271.6°</text>
</g>
</svg></body></html>
